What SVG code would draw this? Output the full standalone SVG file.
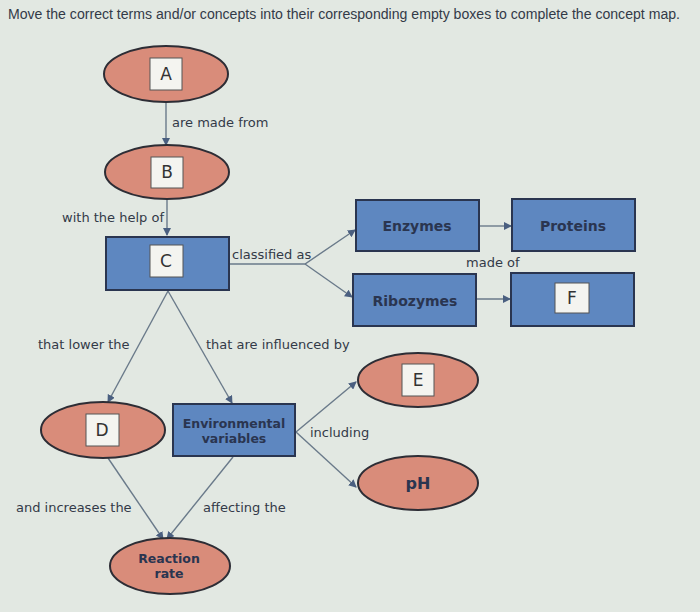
<svg xmlns="http://www.w3.org/2000/svg" width="700" height="612" viewBox="0 0 700 612">
<style>
text{font-family:"DejaVu Sans",Verdana,sans-serif;fill:#333a48}
.lbl{font-size:13px}
.ell{fill:#d98c7a;stroke:#2d2d35;stroke-width:2}
.box{fill:#5e87c0;stroke:#2a3550;stroke-width:2}
.wb{fill:#f4f4f0;stroke:#555;stroke-width:1}
.bt{font-size:14px;font-weight:bold;fill:#2a3550;text-anchor:middle}
.lt{font-size:17px;text-anchor:middle;fill:#333}
.c{stroke:#6a7a8a;stroke-width:1.4;fill:none}
</style>
<defs><marker id="ar" markerWidth="8" markerHeight="8" refX="7" refY="4" orient="auto" markerUnits="userSpaceOnUse"><path d="M0,0L8,4L0,8z" fill="#4a5f80"/></marker></defs>
<rect width="700" height="612" fill="#e2e8e2"/>
<text x="8" y="19" textLength="672" lengthAdjust="spacingAndGlyphs" style="font-size:14px;font-family:'Liberation Sans',sans-serif" fill="#222">Move the correct terms and/or concepts into their corresponding empty boxes to complete the concept map.</text>
<g id="connectors">
<path class="c" d="M166,102V145" marker-end="url(#ar)"/>
<path class="c" d="M167,199V235" marker-end="url(#ar)"/>
<path class="c" d="M229,264H305L355,230" marker-end="url(#ar)"/>
<path class="c" d="M305,264L352,297" marker-end="url(#ar)"/>
<path class="c" d="M480,226H511" marker-end="url(#ar)"/>
<path class="c" d="M477,299H510" marker-end="url(#ar)"/>
<path class="c" d="M168,291L108,402" marker-end="url(#ar)"/>
<path class="c" d="M168,291L232,403" marker-end="url(#ar)"/>
<path class="c" d="M296,432L356,382" marker-end="url(#ar)"/>
<path class="c" d="M296,432L356,487" marker-end="url(#ar)"/>
<path class="c" d="M108,458L163,539" marker-end="url(#ar)"/>
<path class="c" d="M233,457L167,539" marker-end="url(#ar)"/>
<text class="lbl" x="172" y="127">are made from</text>
<text class="lbl" x="164" y="222" text-anchor="end">with the help of</text>
<text class="lbl" x="232" y="259">classified as</text>
<text class="lbl" x="466" y="267">made of</text>
<text class="lbl" x="38" y="349">that lower the</text>
<text class="lbl" x="206" y="349">that are influenced by</text>
<text class="lbl" x="310" y="437">including</text>
<text class="lbl" x="16" y="512">and increases the</text>
<text class="lbl" x="203" y="512">affecting the</text>
</g>
<g id="A"><ellipse class="ell" cx="166" cy="74" rx="62" ry="28"/><rect class="wb" x="150" y="58" width="32" height="32"/><text class="lt" x="166" y="80">A</text></g>
<g id="B"><ellipse class="ell" cx="167" cy="172" rx="62" ry="27"/><rect class="wb" x="151" y="157" width="32" height="31"/><text class="lt" x="167" y="178">B</text></g>
<g id="C"><rect class="box" x="106" y="237" width="123" height="53"/><rect class="wb" x="150" y="245" width="33" height="32"/><text class="lt" x="166" y="267">C</text></g>
<g id="Enzymes"><rect class="box" x="356" y="200" width="123" height="51"/><text class="bt" x="417" y="231">Enzymes</text></g>
<g id="Proteins"><rect class="box" x="512" y="199" width="123" height="52"/><text class="bt" x="573" y="231">Proteins</text></g>
<g id="Ribozymes"><rect class="box" x="353" y="274" width="123" height="52"/><text class="bt" x="415" y="306">Ribozymes</text></g>
<g id="F"><rect class="box" x="511" y="273" width="123" height="53"/><rect class="wb" x="555" y="283" width="34" height="30"/><text class="lt" x="572" y="304">F</text></g>
<g id="E"><ellipse class="ell" cx="418" cy="380" rx="60" ry="27"/><rect class="wb" x="402" y="364" width="32" height="32"/><text class="lt" x="418" y="386">E</text></g>
<g id="D"><ellipse class="ell" cx="103" cy="430" rx="62" ry="28"/><rect class="wb" x="86" y="414" width="33" height="32"/><text class="lt" x="102" y="436">D</text></g>
<g id="Env"><rect class="box" x="173" y="404" width="122" height="52"/><text class="bt" x="234" y="428" style="font-size:12.5px">Environmental</text><text class="bt" x="234" y="443" style="font-size:12.5px">variables</text></g>
<g id="pH"><ellipse class="ell" cx="418" cy="483" rx="60" ry="27"/><text class="bt" x="418" y="489" style="font-size:16px">pH</text></g>
<g id="Rate"><ellipse class="ell" cx="170" cy="566" rx="60" ry="28"/><text class="bt" x="169" y="563" style="font-size:12.5px">Reaction</text><text class="bt" x="169" y="578" style="font-size:12.5px">rate</text></g>
</svg>
